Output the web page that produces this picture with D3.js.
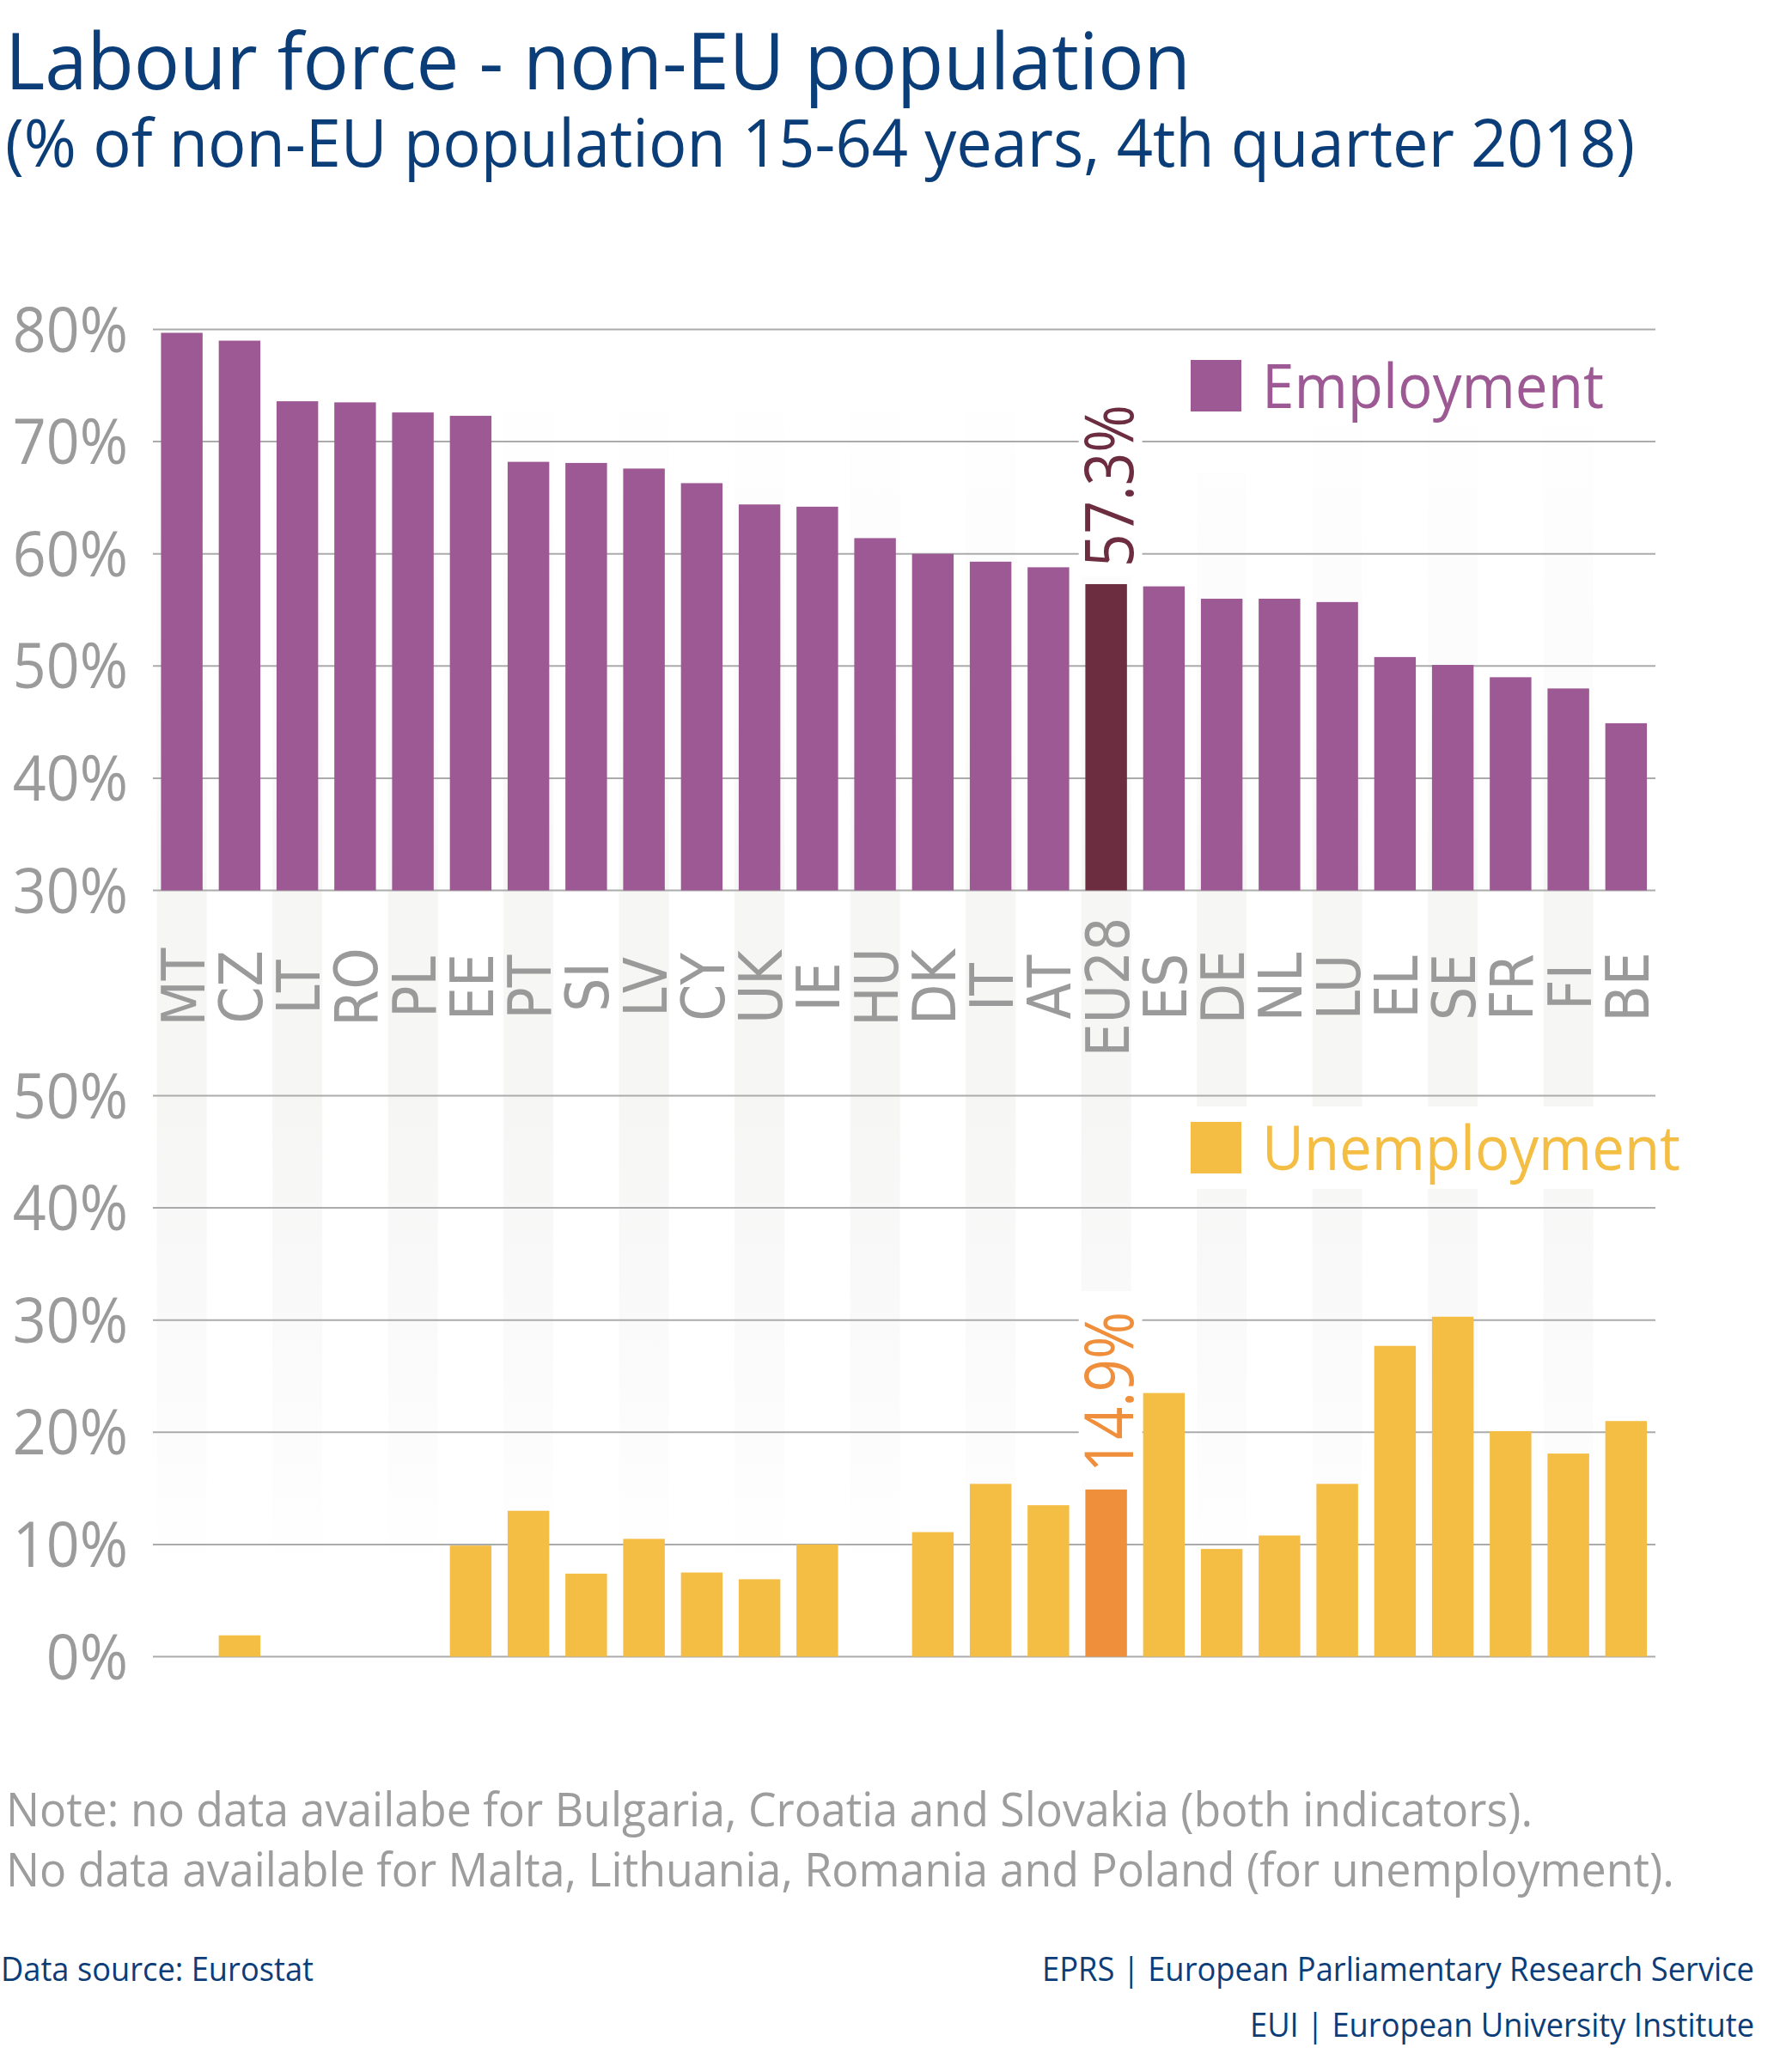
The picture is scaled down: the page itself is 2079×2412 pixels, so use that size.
<!DOCTYPE html>
<html>
<head>
<meta charset="utf-8">
<script src="https://cdn.jsdelivr.net/npm/d3@7/dist/d3.min.js"></script>
<style>
  html, body { margin: 0; padding: 0; background: #ffffff; }
  svg { display: block; }
  text { font-family: "Open Sans", "Noto Sans", sans-serif; }
</style>
</head>
<body>
<script>
// ---------------- DATA ----------------
const categories = ["MT","CZ","LT","RO","PL","EE","PT","SI","LV","CY","UK","IE","HU","DK","IT","AT","EU28","ES","DE","NL","LU","EL","SE","FR","FI","BE"];
const employment = [79.7, 79.0, 73.6, 73.5, 72.6, 72.3, 68.2, 68.1, 67.6, 66.3, 64.4, 64.2, 61.4, 60.0, 59.3, 58.8, 57.3, 57.1, 56.0, 56.0, 55.7, 50.8, 50.1, 49.0, 48.0, 44.9];
const unemployment = [null, 1.9, null, null, null, 9.9, 13.0, 7.4, 10.5, 7.5, 6.9, 10.0, null, 11.1, 15.4, 13.5, 14.9, 23.5, 9.6, 10.8, 15.4, 27.7, 30.3, 20.1, 18.1, 21.0];
const highlightCategory = "EU28";
const employmentTicks = [30, 40, 50, 60, 70, 80];
const unemploymentTicks = [0, 10, 20, 30, 40, 50];
const seriesNames = ["Employment", "Unemployment"];
const titleText = "Labour force - non-EU population";
const subtitleText = "(% of non-EU population 15-64 years, 4th quarter 2018)";
const noteLines = [
  "Note: no data availabe for Bulgaria, Croatia and Slovakia (both indicators).",
  "No data available for Malta, Lithuania, Romania and Poland (for unemployment)."
];
const sourceText = "Data source: Eurostat";
const creditLines = ["EPRS | European Parliamentary Research Service", "EUI | European University Institute"];

// ---------------- STYLE ----------------
const W = 2079, H = 2412;
const C = {
  emp: "#9c5994", empHi: "#6b2d3f",
  unemp: "#f4bd43", unempHi: "#ef8f3b",
  grid: "#ababab", tick: "#9b9b9b", title: "#0b3e78", note: "#9d9d9d"
};

const svg = d3.select("body").append("svg").attr("width", W).attr("height", H);
svg.append("rect").attr("width", W).attr("height", H).attr("fill", "#fff");

const x = d3.scaleBand().domain(categories).range([178, 1926.5]).paddingInner(0.28).paddingOuter(0.14);
const yEmp = d3.scaleLinear().domain([30, 80]).range([1036.5, 383.5]);
const yUn = d3.scaleLinear().domain([0, 50]).range([1928.5, 1275.5]);
const cx = c => x(c) + x.bandwidth() / 2;

// gradient for background stripes
const defs = svg.append("defs");
const grad = defs.append("linearGradient").attr("id", "stripeGrad")
  .attr("gradientUnits", "userSpaceOnUse").attr("x1", 0).attr("x2", 0).attr("y1", 480).attr("y2", 1835);
[[0, "#fefefe"], [0.28, "#fbfbfb"], [0.41, "#f6f6f5"], [0.59, "#f6f6f5"], [0.75, "#f9f9f9"], [1, "#ffffff"]]
  .forEach(([o, c]) => grad.append("stop").attr("offset", o).attr("stop-color", c));

// stripes on every other category
svg.append("g").selectAll("rect")
  .data(categories.filter((d, i) => i % 2 === 0))
  .join("rect")
  .attr("x", d => cx(d) - 29).attr("width", 58)
  .attr("y", 480).attr("height", 1355)
  .attr("fill", "url(#stripeGrad)");

// white masks behind legends
svg.append("rect").attr("x", 1370).attr("y", 400).attr("width", 90).attr("height", 150).attr("fill", "#fff");
svg.append("rect").attr("x", 1460).attr("y", 400).attr("width", 470).attr("height", 95).attr("fill", "#fff");
svg.append("rect").attr("x", 1370).attr("y", 1288).attr("width", 560).attr("height", 96).attr("fill", "#fff");

// gridlines + y labels
function yAxis(scale, ticks) {
  const g = svg.append("g");
  g.selectAll("line").data(ticks).join("line")
    .attr("x1", 178).attr("x2", 1927)
    .attr("y1", d => scale(d)).attr("y2", d => scale(d))
    .attr("stroke", C.grid).attr("stroke-width", 2);
  g.selectAll("text").data(ticks).join("text")
    .attr("x", 149).attr("y", d => scale(d) + 26)
    .attr("text-anchor", "end")
    .attr("font-size", 74).attr("font-weight", 400)
    .attr("fill", C.tick)
    .text(d => d + "%")
    .each(function () {
      const L = this.getComputedTextLength();
      d3.select(this).attr("textLength", L * 0.92).attr("lengthAdjust", "spacingAndGlyphs");
    });
}
yAxis(yEmp, employmentTicks);
yAxis(yUn, unemploymentTicks);

// employment bars
svg.append("g").selectAll("rect")
  .data(categories.map((c, i) => ({ c, v: employment[i] })))
  .join("rect")
  .attr("x", d => x(d.c)).attr("width", x.bandwidth())
  .attr("y", d => yEmp(d.v)).attr("height", d => yEmp(30) - yEmp(d.v))
  .attr("fill", d => d.c === highlightCategory ? C.empHi : C.emp);

// unemployment bars
svg.append("g").selectAll("rect")
  .data(categories.map((c, i) => ({ c, v: unemployment[i] })).filter(d => d.v != null))
  .join("rect")
  .attr("x", d => x(d.c)).attr("width", x.bandwidth())
  .attr("y", d => yUn(d.v)).attr("height", d => yUn(0) - yUn(d.v))
  .attr("fill", d => d.c === highlightCategory ? C.unempHi : C.unemp);

// x category labels
svg.append("g").selectAll("text").data(categories).join("text")
  .attr("transform", d => `translate(${cx(d) + 26},1149) rotate(-90)`)
  .attr("text-anchor", "middle")
  .style("font-family", "'DejaVu Sans', sans-serif")
  .attr("font-size", 70)
  .attr("fill", "#9a9a9a")
  .text(d => d)
  .each(function () {
    const L = this.getComputedTextLength();
    d3.select(this).attr("textLength", L * 0.88).attr("lengthAdjust", "spacingAndGlyphs");
  });

// highlight value labels with white backing
const hiIdx = categories.indexOf(highlightCategory);
function valueLabel(scale, v, color, len, boxTop) {
  const top = scale(v);
  svg.append("rect").attr("x", cx(highlightCategory) - 32).attr("width", 74)
    .attr("y", boxTop).attr("height", top - 9 - boxTop).attr("fill", "#fff");
  svg.append("text")
    .attr("transform", `translate(${cx(highlightCategory) + 31.5},${top - 20}) rotate(-90)`)
    .attr("font-size", 78).attr("fill", color)
    .attr("textLength", len).attr("lengthAdjust", "spacingAndGlyphs")
    .text(v.toFixed(1) + "%");
}
valueLabel(yEmp, employment[hiIdx], C.empHi, 189, 462);
valueLabel(yUn, unemployment[hiIdx], C.unempHi, 187, 1503);

// legends
function legend(y0, name, color, len) {
  svg.append("rect").attr("x", 1386).attr("y", y0).attr("width", 59).attr("height", 60).attr("fill", color);
  svg.append("text").attr("x", 1469).attr("y", y0 + 56)
    .attr("font-size", 72).attr("fill", color)
    .attr("textLength", len).attr("lengthAdjust", "spacingAndGlyphs")
    .text(name);
}
legend(419, seriesNames[0], C.emp, 398);
legend(1306, seriesNames[1], C.unemp, 487);

// title & subtitle
svg.append("text").attr("x", 6).attr("y", 104).attr("font-size", 92).attr("fill", C.title)
  .attr("textLength", 1380).attr("lengthAdjust", "spacingAndGlyphs").text(titleText);
svg.append("text").attr("x", 6).attr("y", 194).attr("font-size", 76).attr("fill", C.title)
  .attr("textLength", 1897).attr("lengthAdjust", "spacingAndGlyphs").text(subtitleText);

// notes
const noteLens = [1777, 1942];
noteLines.forEach((t, i) => {
  svg.append("text").attr("x", 7).attr("y", 2126 + i * 70).attr("font-size", 54).attr("fill", C.note)
    .attr("textLength", noteLens[i]).attr("lengthAdjust", "spacingAndGlyphs").text(t);
});

// footer
svg.append("text").attr("x", 1).attr("y", 2306).attr("font-size", 38).attr("fill", C.title)
  .attr("textLength", 364).attr("lengthAdjust", "spacingAndGlyphs").text(sourceText);
const creditLens = [829, 587];
creditLines.forEach((t, i) => {
  svg.append("text").attr("x", 2042).attr("y", 2306 + i * 65).attr("text-anchor", "end")
    .attr("font-size", 38).attr("fill", C.title)
    .attr("textLength", creditLens[i]).attr("lengthAdjust", "spacingAndGlyphs").text(t);
});
</script>
</body>
</html>
